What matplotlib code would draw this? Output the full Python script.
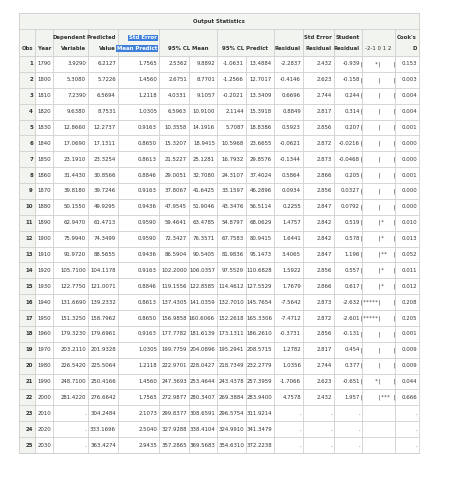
import matplotlib
matplotlib.use("Agg")
import matplotlib.pyplot as plt

obs = list(range(1, 26))
year = [1790+10*i for i in range(25)]
dep = ["3.9290","5.3080","7.2390","9.6380","12.8660","17.0690","23.1910","31.4430","39.8180","50.1550","62.9470","75.9940","91.9720","105.7100","122.7750","131.6690","151.3250","179.3230","203.2110","226.5420","248.7100","281.4220",".",".","."]
pred = ["6.2127","5.7226","6.5694","8.7531","12.2737","17.1311","23.3254","30.8566","39.7246","49.9295","61.4713","74.3499","88.5655","104.1178","121.0071","139.2332","158.7962","179.6961","201.9328","225.5064","250.4166","276.6642","304.2484","333.1696","363.4274"]
sem = ["1.7565","1.4560","1.2118","1.0305","0.9163","0.8650","0.8613","0.8846","0.9163","0.9436","0.9590","0.9590","0.9436","0.9163","0.8846","0.8613","0.8650","0.9163","1.0305","1.2118","1.4560","1.7565","2.1073","2.5040","2.9435"]
clm_lo = ["2.5362","2.6751","4.0331","6.5963","10.3558","15.3207","21.5227","29.0051","37.8067","47.9545","59.4641","72.3427","86.5904","102.2000","119.1556","137.4305","156.9858","177.7782","199.7759","222.9701","247.3693","272.9877","299.8377","327.9288","357.2865"]
clm_hi = ["9.8892","8.7701","9.1057","10.9100","14.1916","18.9415","25.1281","32.7080","41.6425","51.9046","63.4785","76.3571","90.5405","106.0357","122.8585","141.0359","160.6066","181.6139","204.0896","228.0427","253.4644","280.3407","308.6591","338.4104","369.5683"]
clp_lo = ["-1.0631","-1.2566","-0.2021","2.1144","5.7087","10.5968","16.7932","24.3107","33.1597","43.3476","54.8797","67.7583","81.9836","97.5529","114.4612","132.7010","152.2618","173.1311","195.2941","218.7349","243.4378","269.3884","296.5754","324.9910","354.6310"]
clp_hi = ["13.4884","12.7017","13.3409","15.3918","18.8386","23.6655","29.8576","37.4024","46.2896","56.5114","68.0629","80.9415","95.1473","110.6828","127.5529","145.7654","165.3306","186.2610","208.5715","232.2779","257.3959","283.9400","311.9214","341.3479","372.2238"]
resid = ["-2.2837","-0.4146","0.6696","0.8849","0.5923","-0.0621","-0.1344","0.5864","0.0934","0.2255","1.4757","1.6441","3.4065","1.5922","1.7679","-7.5642","-7.4712","-0.3731","1.2782","1.0356","-1.7066","4.7578",".",".","."]
se_res = ["2.432","2.623","2.744","2.817","2.856","2.872","2.873","2.866","2.856","2.847","2.842","2.842","2.847","2.856","2.866","2.873","2.872","2.856","2.817","2.744","2.623","2.432",".",".","."]
stud = ["-0.939","-0.158","0.244","0.314","0.207","-0.0216","-0.0468","0.205","0.0327","0.0792","0.519","0.578","1.196","0.557","0.617","-2.632","-2.601","-0.131","0.454","0.377","-0.651","1.957",".",".","."]
bars = ["|    *|    |","|     |    |","|     |    |","|     |    |","|     |    |","|     |    |","|     |    |","|     |    |","|     |    |","|     |    |","|     |*   |","|     |*   |","|     |**  |","|     |*   |","|     |*   |","|*****|    |","|*****|    |","|     |    |","|     |    |","|     |    |","|    *|    |","|     |*** |","","",""]
cook = ["0.153","0.003","0.004","0.004","0.001","0.000","0.000","0.001","0.000","0.000","0.010","0.013","0.052","0.011","0.012","0.208","0.205","0.001","0.009","0.009","0.044","0.666",".",".","."]

W, H = 474, 479
fig = plt.figure(figsize=(W/100, H/100), dpi=100)
ax = fig.add_axes([0, 0, 1, 1])
ax.set_xlim(0, W); ax.set_ylim(H, 0); ax.axis("off")

xs = [19, 35, 53, 88, 118, 159, 189, 217, 246, 274, 303, 334, 362, 395, 419]
top, title_b, head_b, bottom = 13, 29, 56, 453
rh = (bottom - head_b) / 25
lc = "#d0d0d0"; fs = 3.9; tc = "#333333"
hdr_bg = "#f2f4f0"

ax.add_patch(plt.Rectangle((xs[0], top), xs[-1]-xs[0], head_b-top, color=hdr_bg, zorder=0))
ax.add_patch(plt.Rectangle((xs[0], head_b), xs[1]-xs[0], bottom-head_b, color=hdr_bg, zorder=0))
ax.plot([xs[0], xs[-1], xs[-1], xs[0], xs[0]], [top, top, bottom, bottom, top], color=lc, lw=0.6)
ax.plot([xs[0], xs[-1]], [title_b, title_b], color=lc, lw=0.6)
ax.text((xs[0]+xs[-1])/2, (top+title_b)/2, "Output Statistics", ha="center", va="center", fontsize=fs, weight="bold", color=tc)
for i in range(26):
    y = head_b + i*rh
    ax.plot([xs[0], xs[-1]], [y, y], color=lc, lw=0.6)
skip_head = {6, 8}
for j in range(1, len(xs)-1):
    y0 = title_b if j not in skip_head else head_b
    ax.plot([xs[j], xs[j]], [y0, bottom], color=lc, lw=0.6)

y1 = title_b + (head_b-title_b)*0.33; y2 = title_b + (head_b-title_b)*0.72
def hd(j, l1, l2):
    xr = xs[j+1]-2
    if l1: ax.text(xr, y1, l1, ha="right", va="center", fontsize=fs, weight="bold", color=tc)
    ax.text(xr, y2, l2, ha="right", va="center", fontsize=fs, weight="bold", color=tc)
hd(0, "", "Obs"); hd(1, "", "Year"); hd(2, "Dependent", "Variable"); hd(3, "Predicted", "Value")
for yy, s in [(y1, "Std Error"), (y2, "Mean Predict")]:
    ax.text(xs[5]-2, yy, s, ha="right", va="center", fontsize=fs, weight="bold", color="white",
            bbox=dict(boxstyle="square,pad=0.15", fc="#3f80dc", ec="none"))
ax.text((xs[5]+xs[7])/2, y2, "95% CL Mean", ha="center", va="center", fontsize=fs, weight="bold", color=tc)
ax.text((xs[7]+xs[9])/2, y2, "95% CL Predict", ha="center", va="center", fontsize=fs, weight="bold", color=tc)
hd(9, "", "Residual"); hd(10, "Std Error", "Residual"); hd(11, "Student", "Residual")
ax.text((xs[12]+xs[13])/2, y2, "-2-1 0 1 2", ha="center", va="center", fontsize=fs, color=tc)
hd(13, "Cook's", "D")

cells = [(0, obs), (1, year), (2, dep), (3, pred), (4, sem), (5, clm_lo), (6, clm_hi), (7, clp_lo), (8, clp_hi), (9, resid), (10, se_res), (11, stud), (13, cook)]
for i in range(25):
    yc = head_b + (i+0.5)*rh
    for j, data in cells:
        ax.text(xs[j+1]-2, yc, str(data[i]), ha="right", va="center", fontsize=fs,
                weight="bold" if j == 0 else "normal", color=tc)
    ax.text((xs[12]+xs[13])/2, yc, bars[i], ha="center", va="center", fontsize=fs-0.3, color=tc, family="DejaVu Sans Mono")
fig.savefig("out.png", dpi=100)
